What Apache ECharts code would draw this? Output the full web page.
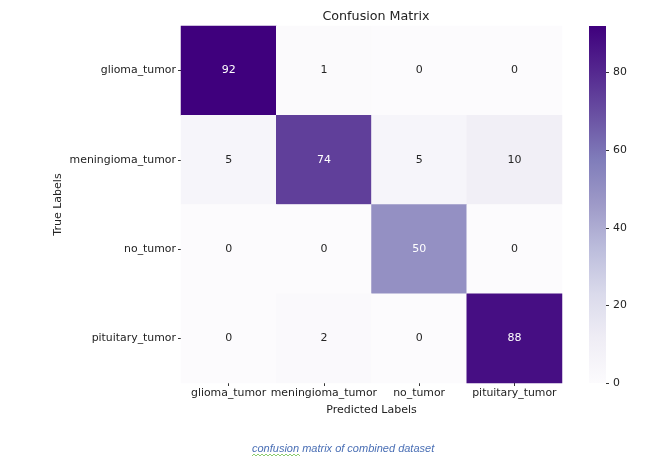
<!DOCTYPE html>
<html><head><meta charset="utf-8">
<script src="https://cdn.jsdelivr.net/npm/echarts@6/dist/echarts.min.js"></script>
<style>html,body{margin:0;padding:0;background:#fff}#c{width:653px;height:459px}</style>
</head><body><div id="c"></div>
<script>
const predictedLabels = ['glioma_tumor','meningioma_tumor','no_tumor','pituitary_tumor'];
const trueLabels = ['glioma_tumor','meningioma_tumor','no_tumor','pituitary_tumor'];
const rowGlioma = [92, 1, 0, 0];
const rowMeningioma = [5, 74, 5, 10];
const rowNoTumor = [0, 0, 50, 0];
const rowPituitary = [0, 2, 0, 88];
const colorbarTicks = [0, 20, 40, 60, 80];
const valueMax = 92;

const purples = ['#fcfbfd','#efedf5','#dadaeb','#bcbddc','#9e9ac8','#807dba','#6a51a3','#54278f','#3f007d'];
const rows = [rowGlioma, rowMeningioma, rowNoTumor, rowPituitary];
const data = [];
rows.forEach((r, i) => r.forEach((v, j) => data.push({value: [j, i, v], label: {color: v > 46 ? '#fff' : '#262626'}})));

const font = 'DejaVu Sans';
const chart = echarts.init(document.getElementById('c'));
chart.setOption({
  animation: false,
  textStyle: {fontFamily: font},
  title: {text: 'Confusion Matrix', left: 371, top: 5, textAlign: 'center',
    textStyle: {fontFamily: font, fontSize: 12.7, fontWeight: 'normal', color: '#222'}},
  graphic: [
    {type: 'rect', z: 0, shape: {x: 589, y: 26, width: 17, height: 357},
      style: {fill: new echarts.graphic.LinearGradient(0, 1, 0, 0,
        purples.map((c, i) => ({offset: i / (purples.length - 1), color: c})))}},
    {type: 'text', left: 252, top: 443, z: 100, style: {text: 'confusion matrix of combined dataset',
      fill: '#4a6fb5', font: 'italic 11px "Liberation Sans"'}},
    {type: 'polyline', z: 100, shape: {points: [[252,456],[254,454],[256,456],[258,454],[260,456],[262,454],[264,456],[266,454],[268,456],[270,454],[272,456],[274,454],[276,456],[278,454],[280,456],[282,454],[284,456],[286,454],[288,456],[290,454],[292,456],[294,454],[296,456],[298,454],[300,456]]},
      style: {stroke: '#6fbf4a', lineWidth: 0.8, fill: null}}
  ],
  grid: [
    {left: 181, top: 26, width: 381, height: 357},
    {left: 589, top: 26, width: 17, height: 357}
  ],
  xAxis: [
    {type: 'category', gridIndex: 0, data: predictedLabels, position: 'bottom',
      name: 'Predicted Labels', nameLocation: 'middle', nameGap: 22, nameMoveOverlap: false,
      nameTextStyle: {fontSize: 11, color: '#222', fontFamily: font},
      axisLine: {show: false}, axisTick: {show: true, alignWithLabel: true, length: 3, lineStyle: {color: '#333'}},
      axisLabel: {fontSize: 10.9, color: '#222', margin: 5, interval: 0, fontFamily: font},
      splitLine: {show: false}},
    {type: 'value', gridIndex: 1, show: false, min: 0, max: 1}
  ],
  yAxis: [
    {type: 'category', gridIndex: 0, data: trueLabels, inverse: true,
      name: 'True Labels', nameLocation: 'middle', nameGap: 117, nameRotate: 90, nameMoveOverlap: false,
      nameTextStyle: {fontSize: 11, color: '#222', fontFamily: font},
      axisLine: {show: false}, axisTick: {show: true, alignWithLabel: true, length: 3, lineStyle: {color: '#333'}},
      axisLabel: {fontSize: 10.9, color: '#222', margin: 5, fontFamily: font},
      splitLine: {show: false}},
    {type: 'value', gridIndex: 1, position: 'right', min: 0, max: valueMax, interval: 20,
      axisLine: {show: false, onZero: false}, axisTick: {show: true, length: 3, lineStyle: {color: '#333'}},
      axisLabel: {fontSize: 10.9, color: '#222', margin: 7, fontFamily: font, showMaxLabel: false,
        formatter: v => colorbarTicks.includes(v) ? String(v) : ''},
      splitLine: {show: false}}
  ],
  visualMap: {
    type: 'continuous', min: 0, max: valueMax, show: false,
    inRange: {color: purples}, seriesIndex: 0
  },
  series: [{
    type: 'heatmap', xAxisIndex: 0, yAxisIndex: 0, data: data,
    label: {show: true, fontSize: 11, fontFamily: font,
      formatter: p => String(p.value[2])},
    itemStyle: {borderWidth: 0},
    emphasis: {disabled: true}
  }]
});
</script></body></html>
